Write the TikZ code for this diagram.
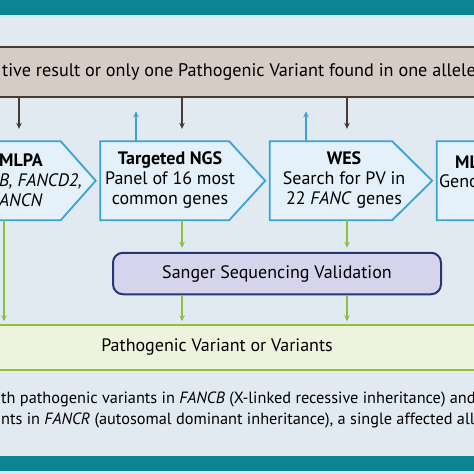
\documentclass[tikz,border=0pt]{standalone}
\usepackage{fontspec}
\setmainfont{PT Sans}
\usetikzlibrary{arrows.meta}

\definecolor{bandteal}{HTML}{0B8494}
\definecolor{bandlight}{HTML}{CFE9EF}
\definecolor{paleback}{HTML}{E1E9F1}
\definecolor{negfill}{HTML}{D6CCC6}
\definecolor{negline}{HTML}{4A3A32}
\definecolor{pvblue}{HTML}{3BA2D6}
\definecolor{pvfill}{HTML}{E4F1FA}
\definecolor{okgreen}{HTML}{8DBE3C}
\definecolor{okfill}{HTML}{EEF3DD}
\definecolor{sangfill}{HTML}{D6D4EC}
\definecolor{sangline}{HTML}{263574}

\tikzset{
  bigtext/.style={font=\fontsize{18}{20}\selectfont},
  negbar/.style={font=\fontsize{18.2}{20}\selectfont, fill=negfill, draw=negline, line width=1.6pt,
    minimum width=540pt, minimum height=50pt, inner sep=0pt},
  pvzone/.style={minimum height=78.5pt, inner sep=0pt},
  pvline/.style={draw=pvblue, fill=pvfill, line width=1.8pt},
  pvtext/.style={bigtext, align=center, inner sep=0pt},
  negarrow/.style={draw=negline, line width=1.3pt, -{Stealth[length=6pt,width=5.5pt]}},
  uparrow/.style={draw=pvblue, line width=1.5pt, -{Stealth[length=6pt,width=5.5pt]}},
  okarrow/.style={draw=okgreen, line width=1.5pt, -{Stealth[length=6pt,width=5.5pt]}},
  sangerbox/.style={bigtext, fill=sangfill, draw=sangline, line width=2pt,
    rounded corners=10pt, minimum width=328pt, minimum height=41.5pt},
  resultbar/.style={bigtext, fill=okfill, draw=okgreen, line width=1.5pt,
    minimum width=540pt, minimum height=45pt},
  notetext/.style={font=\fontsize{16.3}{19}\selectfont, inner sep=0pt, anchor=west}
}

% outline of an arrow-shaped test box around a node
\newcommand{\pvoutline}[2]{%
  \draw[pvline] (#1.north west) -- ([xshift=-#2]#1.north east) -- (#1.east)
    -- ([xshift=-#2]#1.south east) -- (#1.south west) -- cycle;}

\begin{document}
\begin{tikzpicture}[x=1pt,y=-1pt]
\useasboundingbox (0,0) rectangle (474,474);
\clip (0,0) rectangle (474,474);

% Background and teal bands
\fill[paleback] (0,0) rectangle (474,474);
\fill[bandteal] (0,0) rectangle (474,15);
\fill[bandlight] (0,15) rectangle (474,17);
\fill[bandteal] (0,456) rectangle (474,471);
\fill[bandlight] (0,471) rectangle (474,474);

% Starting point
\node[negbar] (neg) at (239,72) {\raisebox{-2pt}{tive result or only one Pathogenic Variant found in one allele}};

% The four tests
\node[pvzone, minimum width=165.5pt] (mlpa) at (12.75,180.75) {};
\pvoutline{mlpa}{35pt}
\node[pvtext, align=left, anchor=west] (mlpatxt) at (-1,180) {\textbf{MLPA}\\\textit{B, FANCD2,}\\\textit{ANCN}};

\node[pvzone, minimum width=164.5pt] (ngs) at (182.75,180.75) {};
\pvoutline{ngs}{36pt}
\node[pvtext] (ngstxt) at (170,180) {\textbf{Targeted NGS}\\Panel of 16 most\\common genes};

\node[pvzone, minimum width=162pt] (wes) at (351,180.75) {};
\pvoutline{wes}{40pt}
\node[pvtext] (westxt) at (344,180) {\textbf{WES}\\Search for PV in\\22 \textit{FANC} genes};

\node[pvzone, minimum width=164pt] (mlpb) at (519,180.75) {};
\pvoutline{mlpb}{36pt}
\node[pvtext, anchor=west] (mlpbtitle) at (455,162) {\textbf{MLPA}};
\node[pvtext, anchor=west] (mlpbtxt) at (439,181) {Geno-};

% Sanger check and final result
\node[sangerbox] (sanger) at (277,273.5) {Sanger Sequencing Validation};
\node[resultbar] (result) at (217,347.5) {Pathogenic Variant or Variants};

% From the starting point down to the tests
\draw[negarrow, shorten >=12.5pt] ([xshift=6.25pt]mlpa.north |- neg.south) -- ([xshift=6.25pt]mlpa.north);
\draw[negarrow, shorten >=12.5pt] ([xshift=-0.75pt]ngs.north |- neg.south) -- ([xshift=-0.75pt]ngs.north);
\draw[negarrow, shorten >=12.5pt] ([xshift=-4pt]wes.north |- neg.south) -- ([xshift=-4pt]wes.north);

% Back up when nothing is found
\draw[uparrow] ([xshift=-46.75pt]ngs.north) -- ++(0,-30);
\draw[uparrow] ([xshift=-45pt]wes.north) -- ++(0,-30);

% Down to validation and result
\draw[okarrow, shorten >=3pt] ([xshift=-8.75pt]mlpa.south) -- ([xshift=-8.75pt]mlpa.south |- result.north);
\draw[okarrow, shorten >=4pt] ([xshift=-0.75pt]ngs.south) -- ([xshift=-0.75pt]ngs.south |- sanger.north);
\draw[okarrow, shorten >=4pt] ([xshift=-4pt]wes.south) -- ([xshift=-4pt]wes.south |- sanger.north);
\draw[okarrow, shorten >=3pt] (sanger.south -| ngstxt.south) ++(12pt,0) -- ([xshift=12pt]ngstxt.south |- result.north);
\draw[okarrow, shorten >=3pt] (sanger.south -| westxt.south) ++(3pt,0) -- ([xshift=3pt]westxt.south |- result.north);

% Note under the chart
\node[notetext] (note1) at (1,399) {th pathogenic variants in \textit{FANCB} (X-linked recessive inheritance) and};
\node[notetext] (note2) at (1,420) {nts in \textit{FANCR} (autosomal dominant inheritance), a single affected allele};

\end{tikzpicture}
\end{document}
